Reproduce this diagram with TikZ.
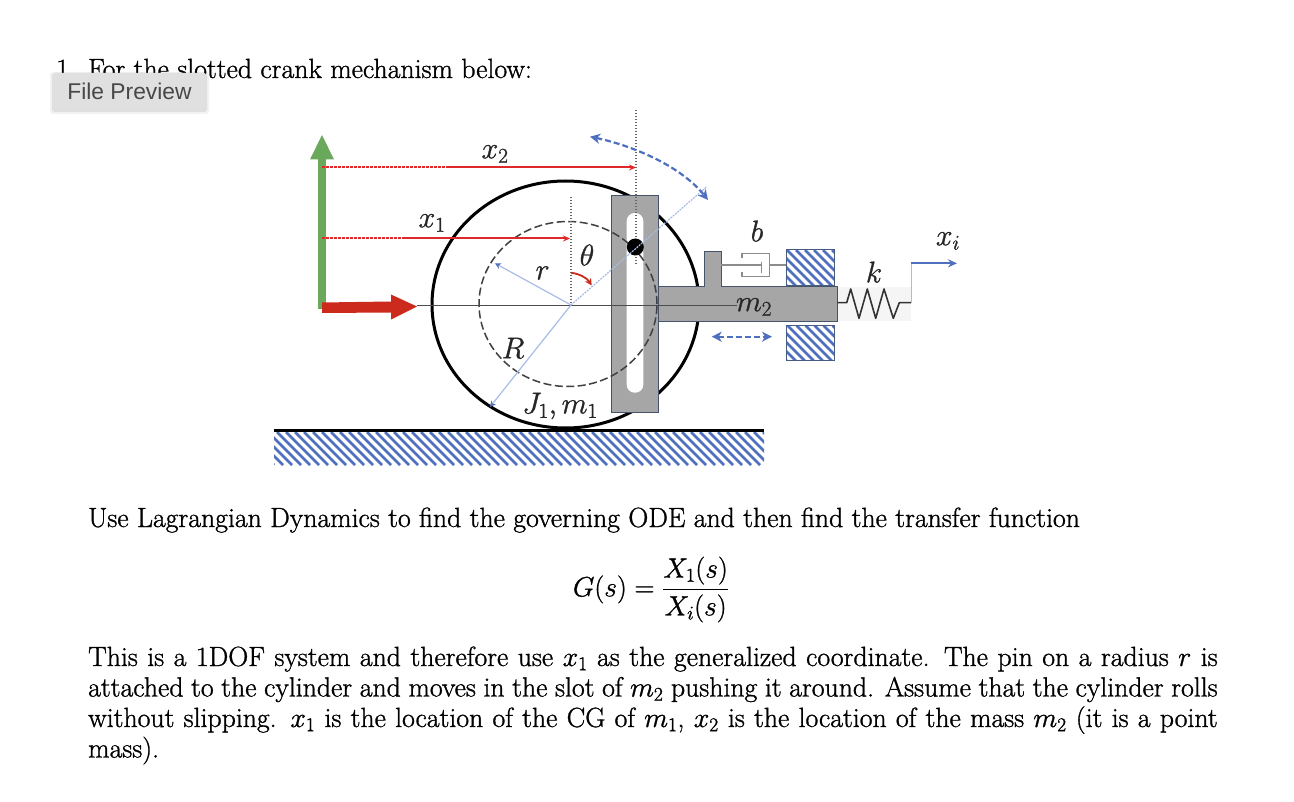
\documentclass[tikz,border=0pt]{standalone}
\usepackage{fix-cm}
\usepackage{fontspec}
\newfontfamily\uifont{Liberation Sans}
\usetikzlibrary{arrows.meta}
\definecolor{hblue}{HTML}{4F6FBF}
\definecolor{lblue}{HTML}{A9BCE6}
\definecolor{mgray}{HTML}{A6A6A6}
\definecolor{edgeblue}{HTML}{44546A}
\definecolor{dred}{HTML}{CD2A1E}
\definecolor{lred}{HTML}{E0282A}
\definecolor{dgreen}{HTML}{6AA85B}
\definecolor{dampgray}{HTML}{8C8C8C}
\newcommand{\hatchrect}[4]{%
  \begin{scope}
    \clip (#1,#2) rectangle (#3,#4);
    \pgfmathsetmacro{\hh}{#4-(#2)}
    \pgfmathsetmacro{\hstart}{#1-\hh-9}
    \pgfmathsetmacro{\hnext}{\hstart+9}
    \foreach \u in {\hstart,\hnext,...,#3}
      \draw[hblue,line width=2.8pt] (\u,#2) -- (\u+\hh,#4);
  \end{scope}}
\newcommand{\fatter}{\special{pdf:literal direct 2 Tr 0.3 w}}
\newcommand{\bodysize}{\fontsize{27.75}{33}\selectfont\fatter}
\newcommand{\labsize}{\fontsize{30}{34}\selectfont\fatter}
\tikzset{
  lab/.style={inner sep=0pt,font=\labsize,text=black!85},
  txt/.style={inner sep=0pt,anchor=base west,font=\bodysize},
  redline/.style={draw=lred,line width=2pt},
  thinblue/.style={lblue,line width=1.2pt},
  vdot/.style={black!60,line width=1.2pt,dash pattern=on 1.5pt off 1.5pt},
  dashcirc/.style={black!75,line width=1.5pt,dash pattern=on 8pt off 3.5pt},
  graybar/.style={fill=mgray,draw=edgeblue,line width=1pt},
  bluedash/.style={hblue,line width=2.2pt,dash pattern=on 6pt off 3pt,{Stealth[length=10pt,width=10pt,inset=3pt]}-{Stealth[length=10pt,width=10pt,inset=3pt]}},
  damp/.style={dampgray,line width=1.4pt}
}
\begin{document}
\begin{tikzpicture}[x=1pt,y=-1pt]
\useasboundingbox[fill=white] (0,0) rectangle (1294,802);

% --- text above
\node[txt] (head) at (56,78) {1.};
\node[txt] (headb) at (88,78) {For the slotted crank mechanism below:};

% --- button
\fill[black,opacity=.05,rounded corners=3pt] (50,72) rectangle (209,114);
\fill[black,opacity=.08,rounded corners=3pt] (52,73) rectangle (207,112);
\node[fill=black!12,rounded corners=2pt,minimum width=153pt,minimum height=37pt,inner sep=0pt,
      font=\uifont\fontsize{22.8}{26}\selectfont,text=black!72] (btn) at (129.5,91.5) {File Preview};

% --- ground
\hatchrect{274}{432}{764}{465}
\draw[black,line width=3pt] (274,430.5) -- (764,430.5);

% --- wheel
\draw[black,line width=3pt] (565.5,304.5) ellipse [x radius=133.5pt,y radius=123.5pt];

% --- slotted bar
\draw[graybar] (611,196) rectangle (658.7,412.7);
\fill[white,rounded corners=8pt] (626.7,213) rectangle (643.3,392.7);

% --- rod, block
\draw[graybar] (658.7,286.7) rectangle (837.7,322);
\fill[mgray] (704,251.7) rectangle (721.3,287);
\draw[edgeblue,line width=.7pt] (704,287) -- (704,251.7) -- (721.3,251.7) -- (721.3,287);

% --- dashed pin circle
\draw[dashcirc] (568,304) ellipse [x radius=89pt,y radius=82.5pt];

% --- axes
\draw[black!70,line width=1.2pt] (417,305.5) -- (737,305.5);
\draw[dgreen,line width=8pt] (322,309) -- (322,158);
\fill[dgreen] (322,135) -- (334,159.5) -- (310,159.5) -- cycle;
\fill[dred] (322,302.5) -- (391,301.5) -- (391,294.5) -- (417,306.5) -- (391,319.5) -- (391,312.5) -- (322,313) -- cycle;

% --- x1, x2
\draw[redline,dash pattern=on 3pt off 1pt] (322,167.5) -- (448,167.5);
\draw[redline,-{Stealth[length=7pt,width=6pt]}] (448,167.5) -- (636,167.5);
\draw[redline,dash pattern=on 3pt off 1pt] (322,238.5) -- (403,238.5);
\draw[redline,-{Stealth[length=7pt,width=6pt]}] (403,238.5) -- (570,238.5);

% --- dotted verticals
\draw[vdot] (571,197) -- (571,305);
\draw[vdot] (636,110) -- (636,264);

% --- pin and its radial line
\fill[black] (635.3,247) circle [radius=8.5pt];
\draw[thinblue,dash pattern=on 2pt off 1pt] (571,305) -- (706.7,186.7);

% --- radii
\draw[thinblue,-{Stealth[length=6pt,width=6pt,color=hblue]}] (571,305) -- (495,263.3);
\draw[thinblue,-{Stealth[length=6pt,width=6pt,color=hblue]}] (571,305) -- (490,407);
\draw[dred,line width=1.8pt,-{Stealth[length=7pt,width=7pt]}] (571,272.7) .. controls (580,274) and (587,278) .. (591.7,285.5);

% --- motion arrows
\draw[bluedash] (590,136.7) .. controls (630,145) and (680,165) .. (708,200);
\draw[bluedash] (711.7,336.7) -- (772,336.7);

% --- damper
\draw[damp] (721.3,265) -- (761.7,265);
\draw[damp] (761.7,261.7) -- (761.7,273);
\draw[damp] (742,258) -- (742,253.3) -- (769.3,253.3) -- (769.3,276.7) -- (742,276.7) -- (742,272);
\draw[damp] (769.3,265) -- (787,265);

% --- guides
\hatchrect{786.7}{250}{834.7}{285.7}
\draw[edgeblue!70!hblue,line width=1pt] (786.7,250) rectangle (834.7,285.7);
\hatchrect{786.7}{325.7}{834.7}{360.7}
\draw[edgeblue!70!hblue,line width=1pt] (786.7,325.7) rectangle (834.7,360.7);

% --- spring
\fill[black!4] (838,286.7) rectangle (911,321);
\draw[black!80,line width=1.6pt,line join=round]
  (837.7,302.7) -- (846.7,302.7) -- (850.7,289) -- (859,318.3) -- (867.3,289) -- (875.7,318.3)
  -- (884,289) -- (893.3,318.3) -- (899.3,302.7) -- (911,302.7);
\draw[lblue,line width=1.4pt] (911.3,302.7) -- (911.3,263.3);
\draw[hblue,line width=2pt,-{Stealth[length=9pt,width=8pt]}] (910.5,263.3) -- (957,263.3);

% --- labels
\node[lab] (lx2) at (495,154) {$x_2$};
\node[lab] (lx1) at (432,223) {$x_1$};
\node[lab] (lth) at (587,255) {$\theta$};
\node[lab] (lr) at (542.7,273) {$r$};
\node[lab] (lR) at (513,348) {$R$};
\node[lab] (lJ) at (560,406) {$J_1,m_1$};
\node[lab] (lb) at (757,231) {$b$};
\node[lab] (lm) at (754,307) {$m_2$};
\node[lab] (lk) at (874,272) {$k$};
\node[lab] (lxi) at (948,241) {$x_i$};

% --- text below
\node[txt] (t1) at (88,527) {Use Lagrangian Dynamics to find the governing ODE and then find the transfer function};
\node[inner sep=0pt,font=\bodysize] (eq) at (651,589.5) {$\displaystyle G(s)=\frac{X_1(s)}{X_i(s)}$};
\node[txt] (p1) at (88,666) {\makebox[1129.5pt][s]{This is a 1DOF system and therefore use $x_1$ as the generalized coordinate. The pin on a radius $r$ is}};
\node[txt] (p2) at (88,696.5) {\makebox[1129.5pt][s]{attached to the cylinder and moves in the slot of $m_2$ pushing it around. Assume that the cylinder rolls}};
\node[txt] (p3) at (88,727) {\makebox[1129.5pt][s]{without slipping. $x_1$ is the location of the CG of $m_1$, $x_2$ is the location of the mass $m_2$ (it is a point}};
\node[txt] (p4) at (88,757.5) {mass).};
\end{tikzpicture}
\end{document}
